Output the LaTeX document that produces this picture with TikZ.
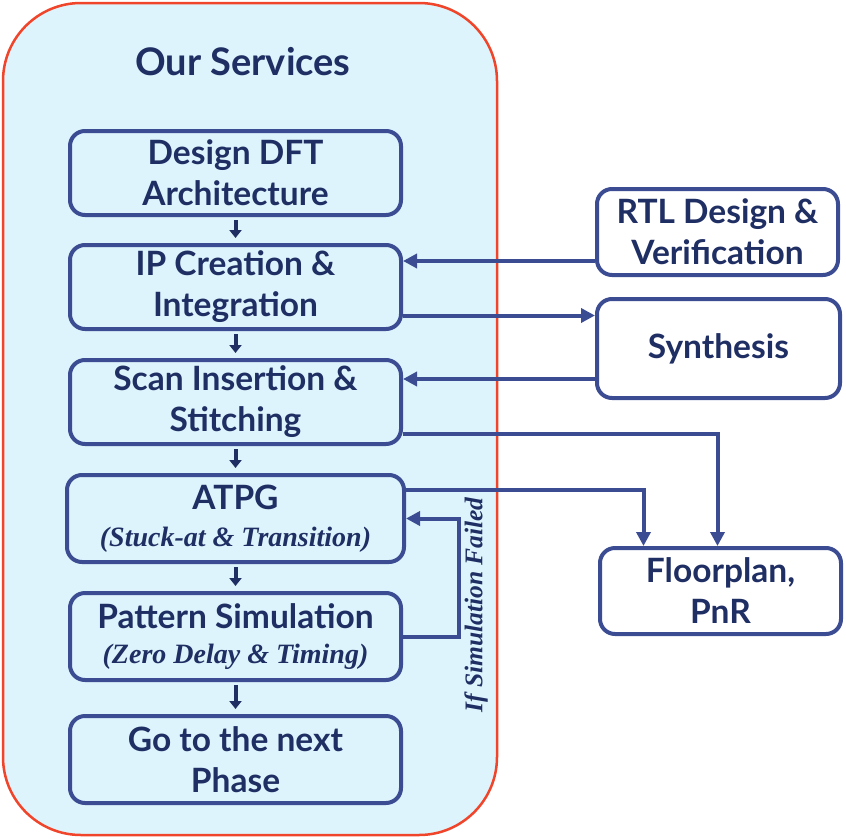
\documentclass[tikz,border=0pt]{standalone}
\usepackage{fontspec}
\setmainfont{Lato}
\newfontfamily\notefont{Liberation Serif}
\newcommand{\notetext}{\notefont\fontsize{28}{32}\selectfont\bfseries\itshape}
\usetikzlibrary{positioning}
\usetikzlibrary{arrows.meta}
\usetikzlibrary{calc}
\definecolor{sNavy}{HTML}{1F2E63}
\definecolor{sBlue}{HTML}{3B4C92}
\definecolor{sSky}{HTML}{DDF4FC}
\definecolor{sRed}{HTML}{F0452B}

\begin{document}
\begin{tikzpicture}[x=1pt, y=1pt,
    svc/.style = {draw=sBlue, line width=4pt, rounded corners=15pt, minimum width=331pt, minimum height=84pt,
      align=center, text=sNavy, inner sep=0pt, font=\fontsize{33.5}{41}\selectfont\bfseries},
    ext/.style = {svc, fill=white, minimum width=241pt, minimum height=86pt},
    conn/.style = {draw=sBlue, line width=4pt, -{Triangle[length=14pt, width=14pt]}},
    down/.style = {draw=sNavy, line width=4pt, -{Triangle[length=8pt, width=12pt]}, shorten <=3pt, shorten >=5pt},
  ]

  \useasboundingbox (0,0) rectangle (846,-838);

  % services panel
  \draw[draw=sRed, fill=sSky, line width=2.5pt, rounded corners=78pt] (3,-3) rectangle (497,-835);
  \node[text=sNavy, font=\fontsize{38}{44}\selectfont\bfseries] (title) at (243,-62) {Our Services};

  % flow of the services
  \node[svc] (arch) at (235.5,-173) {Design DFT\\Architecture};
  \node[svc, below=26pt of arch] (ipc) {IP Creation \&\\Integration};
  \node[svc, below=27pt of ipc] (scan) {Scan Insertion \&\\Stitching};
  \node[svc, below=27pt of scan, minimum width=337pt, minimum height=87pt] (atpg)
    {ATPG\\[-4pt]{\notetext (Stuck-at \& Transition)}};
  \node[svc, below=27pt of atpg, minimum height=87pt] (pat)
    {Pattern Simulation\\[-6pt]{\notetext (Zero Delay \& Timing)}};
  \node[svc, below=32pt of pat, minimum height=87pt] (next) {Go to the next\\Phase};

  % outside steps
  \node[ext] (rtl) at (717.5,-232) {RTL Design \&\\Verification};
  \node[ext, minimum width=243pt, minimum height=99pt] (syn) at (718.5,-348.5) {Synthesis};
  \node[ext] (flp) at (720.5,-591) {Floorplan,\\PnR};

  % step -> step
  \draw[down] (arch) -- (ipc);
  \draw[down] (ipc) -- (scan);
  \draw[down] (scan) -- (atpg);
  \draw[down] (atpg) -- (pat);
  \draw[down] (pat) -- (next);

  % outside -> services
  \draw[conn] ([yshift=-29pt]rtl.west) -- ([yshift=-29pt]rtl.west -| ipc.east);
  \draw[conn] ([yshift=-28.5pt]ipc.east) -- ([yshift=-28.5pt]ipc.east -| syn.west);
  \draw[conn] ([yshift=-30.5pt]syn.west) -- ([yshift=-30.5pt]syn.west -| scan.east);
  \draw[conn] ([yshift=-32pt]scan.east) -| ([xshift=-3pt]flp.north);
  \draw[conn] ([yshift=28.5pt]atpg.east) -| ([xshift=-77pt]flp.north);

  % simulation -> atpg
  \draw[conn] (pat.east) -- ++(55.5,0) |- (atpg.east);
  \node[text=sNavy, rotate=90, font=\notefont\fontsize{25.5}{30}\selectfont\bfseries\itshape] (fail) at (476,-605)
    {If Simulation Failed};

\end{tikzpicture}
\end{document}
